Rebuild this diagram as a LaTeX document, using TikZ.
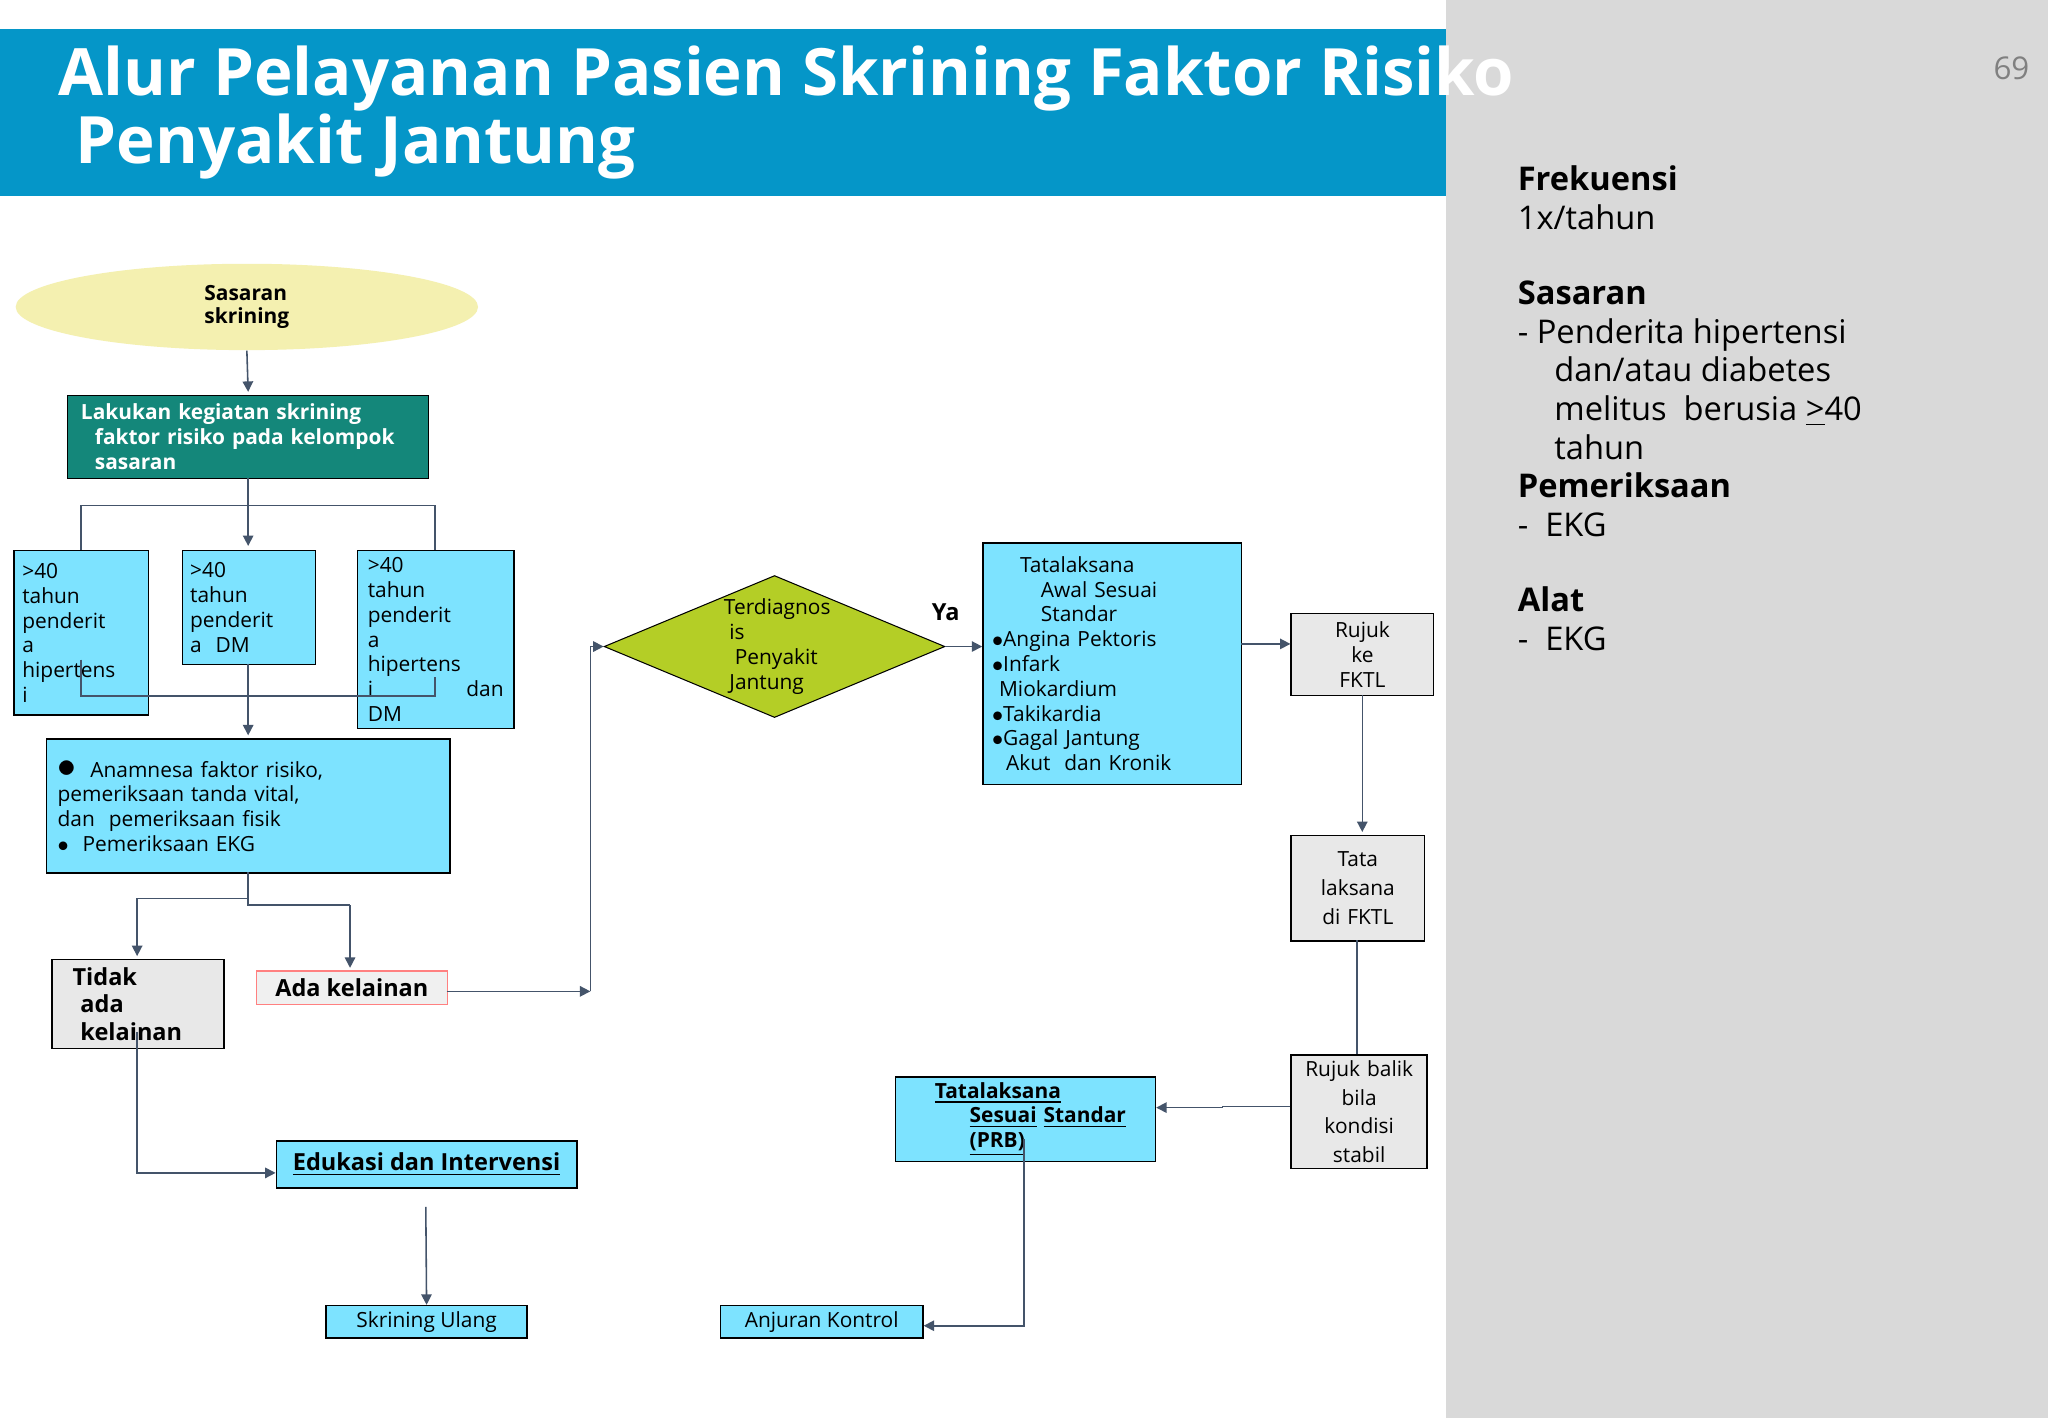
\documentclass[tikz,border=0pt]{standalone}
\usepackage{fontspec}
\setmainfont{Open Sans}
\usetikzlibrary{shapes.geometric,arrows.meta}
\definecolor{hdr}{HTML}{0596C8}
\definecolor{cy}{HTML}{7DE3FF}
\definecolor{teal}{HTML}{14877A}
\definecolor{lnc}{HTML}{44546A}
\begin{document}
\begin{tikzpicture}[x=0.5pt,y=-0.5pt,
 box/.style={draw=black,fill=cy,line width=0.6pt,inner sep=2pt,font=\fontsize{8}{9.5}\selectfont},
 gbox/.style={draw=black,fill=gray!18,line width=0.6pt,inner sep=2pt,font=\fontsize{8}{11}\selectfont,align=center},
 ln/.style={draw=lnc,line width=0.6pt},
 ar/.style={ln,-{Triangle[length=4pt,width=4pt]}}]
\useasboundingbox (0,0) rectangle (1568,1086);
\fill[white] (0,0) rectangle (1107,1086);
\fill[gray!30] (1107,0) rectangle (1568,1086);
\fill[hdr] (0,22) rectangle (1107,150);
\node[anchor=west,text=white,font=\fontsize{25}{26}\selectfont\bfseries,align=left] (title) at (38,86) {Alur Pelayanan Pasien Skrining Faktor Risiko\\\ Penyakit Jantung};
\node[text=gray,font=\fontsize{12}{14}\selectfont] (pg) at (1540,52) {69};
\node[anchor=north west,font=\fontsize{12.5}{14.8}\selectfont,align=left] (side) at (1155,120) {\textbf{Frekuensi}\\1x/tahun\\[14pt]\textbf{Sasaran}\\- Penderita hipertensi\\\hspace*{14pt}dan/atau diabetes\\\hspace*{14pt}melitus\ \ berusia \underline{>}40\\\hspace*{14pt}tahun\\\textbf{Pemeriksaan}\\-\ \ EKG\\[14pt]\textbf{Alat}\\-\ \ EKG};
% ellipse
\node[ellipse,fill=yellow!20!white!90!olive,minimum width=354pt*0.5,minimum height=66pt*0.5,font=\fontsize{8}{9}\selectfont\bfseries,align=left] (sas) at (189,235) {Sasaran\\skrining};
\node[draw=black,fill=teal,text=white,minimum width=276pt*0.5,minimum height=63pt*0.5,text width=128pt,align=left,font=\fontsize{8}{9.5}\selectfont\bfseries,inner sep=3pt] (lak) at (190,334.5) {Lakukan kegiatan skrining\\\ \ faktor risiko pada kelompok\\\ \ sasaran};
\node[box,anchor=north west,minimum width=51.5pt,minimum height=63pt,text width=45pt,align=left] (b1) at (10,421) {>40\\tahun\\penderit\\a\\hipertens\\i};
\node[box,anchor=north west,minimum width=51pt,minimum height=43.5pt,text width=45pt,align=left] (b2) at (139,421) {>40\\tahun\\penderit\\a\ \ DM};
\node[box,anchor=north west,minimum width=60pt,minimum height=68pt,text width=52pt,align=left] (b3) at (273,421) {>40\\tahun\\penderit\\a\\hipertens\\i\hfill dan\\DM};
\node[box,anchor=north west,minimum width=154.5pt,minimum height=51.5pt,text width=146pt,align=left] (ana) at (35,565) {{\Large$\bullet$}\ \ Anamnesa faktor risiko,\\pemeriksaan tanda vital,\\dan\ \ pemeriksaan fisik\\$\bullet$\ \ Pemeriksaan EKG};
\node[gbox,anchor=north west,minimum width=66pt,minimum height=34pt,text width=50pt,align=left,font=\fontsize{9}{10.5}\selectfont\bfseries] (tid) at (39,734) {Tidak\\\ ada\\\ kelainan};
\node[draw=red!50,fill=gray!12,anchor=north west,minimum width=73pt,minimum height=13pt,inner sep=0pt,font=\fontsize{9}{10}\selectfont\bfseries] (ada) at (196,743) {Ada kelainan};
\node[diamond,draw=black,fill=yellow!75!green!90!black,minimum width=121pt,minimum height=50pt,inner sep=0pt,aspect=2.4,align=left,font=\fontsize{8}{9.5}\selectfont] (dia) at (593,495) {\ Terdiagnos\\\ \ is\\\ \ \ Penyakit\\\ \ Jantung};
\node[font=\fontsize{9}{10}\selectfont\bfseries] (ya) at (724,469) {Ya};
\node[box,anchor=north west,minimum width=99pt,minimum height=92.5pt,text width=92pt,align=left] (tata) at (752,415) {\ \ \ \ Tatalaksana\\\ \ \ \ \ \ \ Awal Sesuai\\\ \ \ \ \ \ \ Standar\\$\bullet$Angina Pektoris\\$\bullet$Infark\\\ Miokardium\\$\bullet$Takikardia\\$\bullet$Gagal Jantung\\\ \ Akut\ \ dan Kronik};
\node[gbox,anchor=north west,minimum width=54.5pt,minimum height=31.5pt,text width=40pt,font=\fontsize{8}{9.5}\selectfont] (rk) at (988,469) {Rujuk\\ke\\FKTL};
\node[gbox,anchor=north west,minimum width=51pt,minimum height=40.5pt,text width=45pt] (tl) at (988,639) {Tata\\laksana\\di FKTL};
\node[gbox,anchor=north west,minimum width=51pt,minimum height=43.5pt,text width=48pt] (rb) at (988,807) {Rujuk balik\\bila\\kondisi\\stabil};
\node[box,anchor=north west,minimum width=99.5pt,minimum height=31pt,text width=80pt,align=left,font=\fontsize{8}{9.5}\selectfont\bfseries] (prb) at (685,824) {\ \ \underline{Tatalaksana}\\\ \ \ \ \ \ \ \underline{Sesuai}\ \underline{Standar}\\\ \ \ \ \ \ \ \underline{(PRB)}};
\node[box,anchor=north west,minimum width=115pt,minimum height=18pt,font=\fontsize{9}{10}\selectfont\bfseries] (edu) at (211,873) {\underline{Edukasi dan Intervensi}};
\node[box,anchor=north west,minimum width=77pt,minimum height=12.5pt,inner sep=0pt] (sku) at (249,999) {\raisebox{-3pt}{Skrining Ulang}};
\node[box,anchor=north west,minimum width=77.5pt,minimum height=12.5pt,inner sep=0pt] (ank) at (551,999) {\raisebox{-3pt}{Anjuran Kontrol}};
% connectors
\coordinate (t1) at (190,387);
\draw[ar] (sas.south) -- (lak.south |- 0,300);
\draw[ar] (190,366) -- (190,418);
\draw[ln] (62,421) -- (62,387) -- (333,387) -- (333,421);
\draw[ln] (62,505) -- (62,533) -- (333,533) -- (333,518);
\draw[ar] (190,508) -- (190,563);
\draw[ln] (190,668) -- (190,693) -- (268,693);
\draw[ar] (268,693) -- (268,741);
\draw[ar] (190,688) -- (105,688) -- (105,732);
\draw[ar] (342,759) -- (452,759);
\draw[ar] (452,759) -- (452,495) -- (dia.west);
\draw[ar] (dia.east) -- (tata.west |- dia.east);
\draw[ar] (950,493) -- (rk.west |- 0,493);
\draw[ar] (1043,532) -- (1043,637);
\draw[ln,line width=1pt] (1039,720) -- (1039,807);
\draw[ar] (rb.west |- 0,847) -- (936,847) -- (936,848) -- (prb.east |- 0,848);
\draw[ar] (784,872) -- (784,1015) -- (ank.east |- 0,1015);
\draw[ar] (105,790) -- (105,898) -- (edu.west |- 0,898);
\draw[ar] (326,924) -- (sku.north);
\end{tikzpicture}
\end{document}
